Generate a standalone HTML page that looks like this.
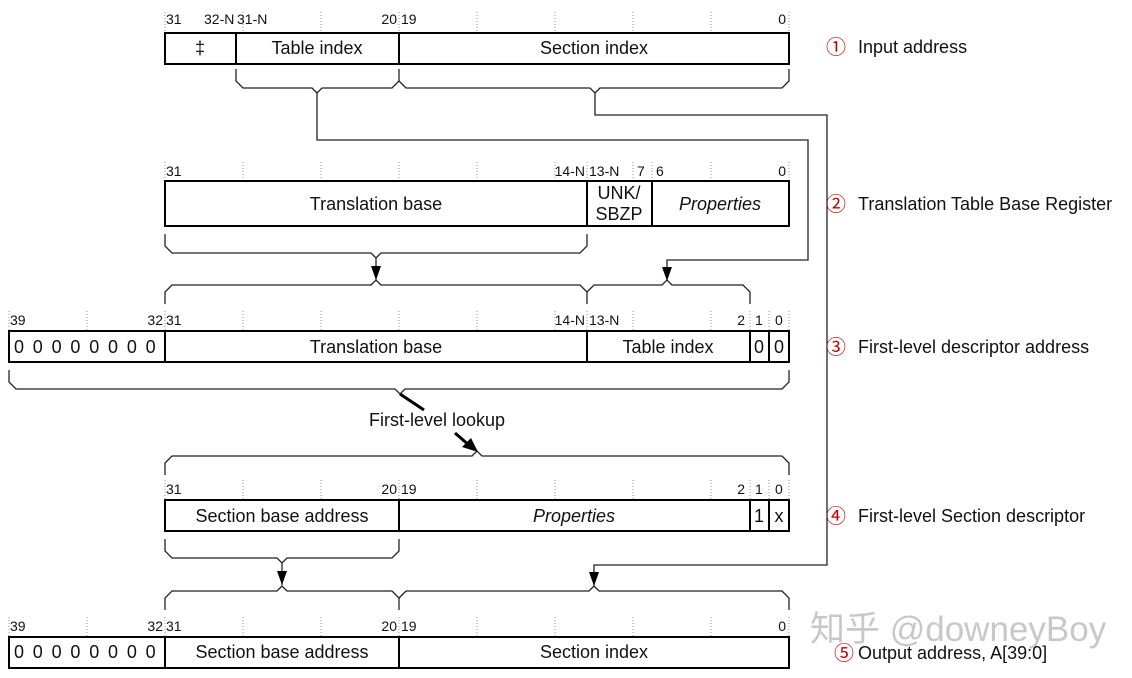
<!DOCTYPE html>
<html><head><meta charset="utf-8"><style>
body{margin:0;background:#fff}
svg{display:block}
text{font-family:"Liberation Sans",Arial,sans-serif;fill:#111}
.t{font-size:14px}
.b{font-size:18px}
.r{font-size:18px}
.c{fill:#c00000;font-size:20px;font-family:"Noto Sans CJK SC",sans-serif}
</style></head><body>
<svg width="1132" height="678" viewBox="0 0 1132 678" xmlns="http://www.w3.org/2000/svg">
<defs><marker id="a" viewBox="0 0 14 10" refX="14" refY="5" markerWidth="14" markerHeight="10" orient="auto" markerUnits="userSpaceOnUse"><path d="M0,0 L14,5 L0,10z" fill="#000"/></marker></defs>
<g stroke="#999" stroke-dasharray="1,2" stroke-width="1">
<path d="M165 12V33M243 12V33M321 12V33M399 12V33M477 12V33M555 12V33M633 12V33M711 12V33M789 12V33"/>
<path d="M165 162V181M243 162V181M321 162V181M399 162V181M477 162V181M555 162V181M587 162V181M633 162V181M652 162V181M711 162V181M789 162V181"/>
<path d="M9 311V331M87 311V331M165 311V331M243 311V331M321 311V331M399 311V331M477 311V331M555 311V331M587 311V331M633 311V331M711 311V331M750 311V331M769 311V331M789 311V331"/>
<path d="M165 480V500M243 480V500M321 480V500M399 480V500M477 480V500M555 480V500M633 480V500M711 480V500M750 480V500M769 480V500M789 480V500"/>
<path d="M9 617V637M87 617V637M165 617V637M243 617V637M321 617V637M399 617V637M477 617V637M555 617V637M633 617V637M711 617V637M789 617V637"/>
</g>
<g fill="none" stroke="#000" stroke-width="2">
<rect x="165" y="33" width="624" height="31"/>
<path d="M236 33V64M399 33V64"/>
<rect x="165" y="181" width="624" height="45"/>
<path d="M587 181V226M652 181V226"/>
<rect x="9" y="331" width="780" height="31"/>
<path d="M165 331V362M587 331V362M750 331V362M769 331V362"/>
<rect x="165" y="500" width="624" height="31"/>
<path d="M399 500V531M750 500V531M769 500V531"/>
<rect x="9" y="637" width="780" height="31"/>
<path d="M165 637V668M399 637V668"/>
</g>
<g fill="none" stroke="#222" stroke-width="1.3">
<path d="M236 69V81L243 88H312L317 93L322 88H392L399 81V69"/>
<path d="M399 81L406 88H590L595 93L600 88H782L789 81V69"/>
<path d="M317 93V140H808V260H667V281" marker-end="url(#a)"/>
<path d="M595 93V115H827V565H594V586" marker-end="url(#a)"/>
<path d="M165 234V246L172 253H371L376 258L381 253H580L587 246V234"/>
<path d="M376 258V280" marker-end="url(#a)"/>
<path d="M165 304V292L172 285H371L376 280L381 285H580L587 292V304"/>
<path d="M587 292L594 285H662L667 280L672 285H743L750 292V304"/>
<path d="M9 370V382L16 389H395L400 394L405 389H782L789 382V370"/>
<path d="M165 475V463L172 456H472L477 451L482 456H782L789 463V475"/>
<path d="M165 539V551L172 558H277L282 563L287 558H392L399 551V539"/>
<path d="M282 563V585" marker-end="url(#a)"/>
<path d="M165 610V598L172 591H277L282 586L287 591H392L399 598V610"/>
<path d="M399 598L406 591H589L594 586L599 591H782L789 598V610"/>
</g>
<path d="M400 394L424 410" stroke="#000" stroke-width="3"/>
<path d="M455 433L470 446" stroke="#000" stroke-width="3"/>
<path d="M478 452L462 447L471 438z" fill="#000"/>
<g class="t">
<text x="166" y="24">31</text><text x="204" y="24">32-N</text><text x="237" y="24">31-N</text><text x="397" y="24" text-anchor="end">20</text><text x="401" y="24">19</text><text x="786" y="24" text-anchor="end">0</text>
<text x="166" y="176">31</text><text x="585" y="176" text-anchor="end">14-N</text><text x="589" y="176">13-N</text><text x="637" y="176">7</text><text x="656" y="176">6</text><text x="786" y="176" text-anchor="end">0</text>
<text x="10" y="325">39</text><text x="163" y="325" text-anchor="end">32</text><text x="166" y="325">31</text><text x="585" y="325" text-anchor="end">14-N</text><text x="589" y="325">13-N</text><text x="745" y="325" text-anchor="end">2</text><text x="755" y="325">1</text><text x="775" y="325">0</text>
<text x="166" y="494">31</text><text x="397" y="494" text-anchor="end">20</text><text x="401" y="494">19</text><text x="745" y="494" text-anchor="end">2</text><text x="755" y="494">1</text><text x="775" y="494">0</text>
<text x="10" y="631">39</text><text x="163" y="631" text-anchor="end">32</text><text x="166" y="631">31</text><text x="397" y="631" text-anchor="end">20</text><text x="401" y="631">19</text><text x="786" y="631" text-anchor="end">0</text>
</g>
<g class="b" text-anchor="middle">
<text x="200" y="54">‡</text><text x="317" y="54">Table index</text><text x="594" y="54">Section index</text>
<text x="376" y="210">Translation base</text><text x="619" y="199">UNK/</text><text x="619" y="220">SBZP</text><text x="720" y="210" font-style="italic">Properties</text>
<text x="376" y="353">Translation base</text><text x="668" y="353">Table index</text><text x="759" y="353">0</text><text x="779" y="353">0</text>
<text x="437" y="426">First-level lookup</text>
<text x="282" y="522">Section base address</text><text x="574" y="522" font-style="italic">Properties</text><text x="759" y="522">1</text><text x="779" y="522">x</text>
<text x="282" y="658">Section base address</text><text x="594" y="658">Section index</text>
</g>
<g class="b">
<text x="14" y="353" letter-spacing="8.8">00000000</text>
<text x="14" y="658" letter-spacing="8.8">00000000</text>
</g>
<text x="810" y="641" font-size="35" style="fill:#c8c8c8;font-family:'Liberation Sans','Noto Sans CJK SC',sans-serif">知乎 @downeyBoy</text>
<g class="r">
<text x="826" y="54" class="c">①</text><text x="858" y="53">Input address</text>
<text x="826" y="211" class="c">②</text><text x="858" y="210">Translation Table Base Register</text>
<text x="826" y="354" class="c">③</text><text x="858" y="353">First-level descriptor address</text>
<text x="826" y="523" class="c">④</text><text x="858" y="522">First-level Section descriptor</text>
<text x="834" y="660" class="c">⑤</text><text x="858" y="659">Output address, A[39:0]</text>
</g>
</svg>
</body></html>
